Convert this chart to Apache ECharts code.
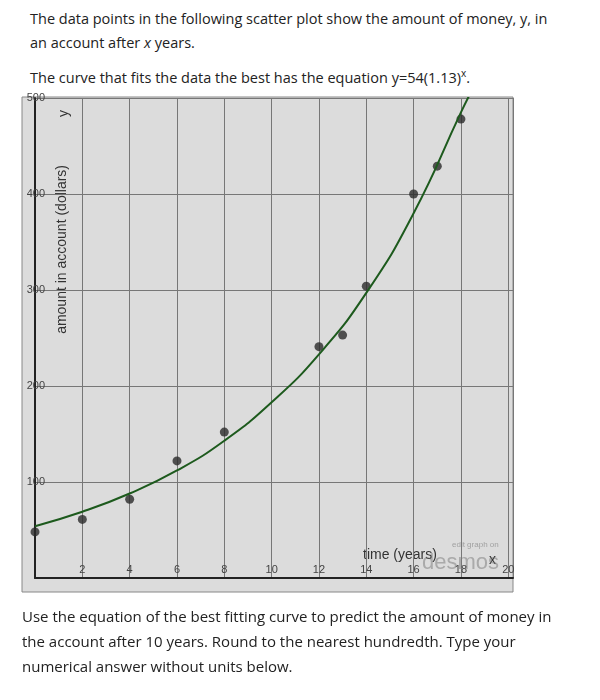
<!DOCTYPE html>
<html><head><meta charset="utf-8">
<script src="https://cdn.jsdelivr.net/npm/echarts@6/dist/echarts.min.js"></script>
<style>
body{margin:0;background:#fff;font-family:"Open Sans",sans-serif;color:#222}
.t{position:absolute;left:30px;font-size:14.5px}
</style></head><body>
<div class="t" style="top:9px">The data points in the following scatter plot show the amount of money, y, in</div>
<div class="t" style="top:33px">an account after <i>x</i> years.</div>
<div class="t" style="top:66px">The curve that fits the data the best has the equation y=54(1.13)<sup style="font-size:10px">x</sup>.</div>
<div id="c" style="position:absolute;left:0;top:0;width:600px;height:700px"></div>
<div class="t" style="top:606px;left:22px;font-size:15px">Use the equation of the best fitting curve to predict the amount of money in</div>
<div class="t" style="top:631px;left:22px;font-size:15px">the account after 10 years. Round to the nearest hundredth. Type your</div>
<div class="t" style="top:656px;left:22px;font-size:15px">numerical answer without units below.</div>
<script>
// 数据点
const pointX = [0, 2, 4, 6, 8, 12, 13, 14, 16, 17, 18];
const pointY = [48, 61, 82, 122, 152, 241, 253, 304, 400, 429, 478];
// 拟合曲线上读取的点
const curveX = [0, 2, 4, 6, 8, 10, 12, 14, 16, 18, 18.4];
const curveY = [54, 69, 88, 112, 143, 183, 233, 297, 380, 485, 505];
const xTicks = [2, 4, 6, 8, 10, 12, 14, 16, 18, 20];

const chart = echarts.init(document.getElementById('c'));
chart.setOption({
  animation: false,
  grid: {left: 35, right: 87, top: 98, bottom: 122},
  xAxis: {type: 'value', min: 0, max: 20.2, interval: 2,
    axisLine: {lineStyle: {color: '#222', width: 2}},
    axisTick: {show: false},
    splitLine: {lineStyle: {color: '#777'}},
    axisLabel: {color: '#444', fontSize: 11, margin: -14, fontFamily: 'Liberation Sans',
      formatter: v => xTicks.includes(v) ? String(v) : ''}},
  yAxis: {type: 'value', min: 0, max: 500, interval: 100,
    axisLine: {lineStyle: {color: '#222', width: 2}},
    axisTick: {show: false},
    splitLine: {lineStyle: {color: '#777'}},
    axisLabel: {color: '#444', fontSize: 11, margin: -10, fontFamily: 'Liberation Sans',
      formatter: v => v > 0 ? String(v) : ''}},
  series: [
    {type: 'line', data: curveX.map((x, i) => [x, curveY[i]]), smooth: true,
      showSymbol: false, lineStyle: {color: '#1d5a1d', width: 2}},
    {type: 'scatter', data: pointX.map((x, i) => [x, pointY[i]]), clip: false,
      symbolSize: 9, itemStyle: {color: '#2a2a2a'}}
  ],
  graphic: [
    {type: 'rect', z: -10, shape: {x: 22, y: 97, width: 491, height: 495},
      style: {fill: '#dcdcdc', stroke: '#888', lineWidth: 1}},
    {type: 'text', left: 55, top: 165, rotation: Math.PI / 2,
      style: {text: 'amount in account (dollars)', fontSize: 14, fill: '#333', fontFamily: 'Liberation Sans'}},
    {type: 'text', left: 57, top: 110, rotation: Math.PI / 2,
      style: {text: 'y', fontSize: 14, fill: '#333', fontFamily: 'Liberation Sans'}},
    {type: 'text', left: 363, top: 548,
      style: {text: 'time (years)', fontSize: 14, fill: '#333', fontFamily: 'Liberation Sans'}},
    {type: 'text', left: 489, top: 553,
      style: {text: 'x', fontSize: 14, fill: '#333', fontFamily: 'Liberation Sans'}},
    {type: 'text', left: 422, top: 552,
      style: {text: 'desmos', fontSize: 22, fill: 'rgba(120,120,120,0.5)', fontFamily: 'Liberation Sans'}},
    {type: 'text', left: 452, top: 541,
      style: {text: 'edit graph on', fontSize: 8, fill: 'rgba(120,120,120,0.6)', fontFamily: 'Liberation Sans'}}
  ]
});
</script>
</body></html>
